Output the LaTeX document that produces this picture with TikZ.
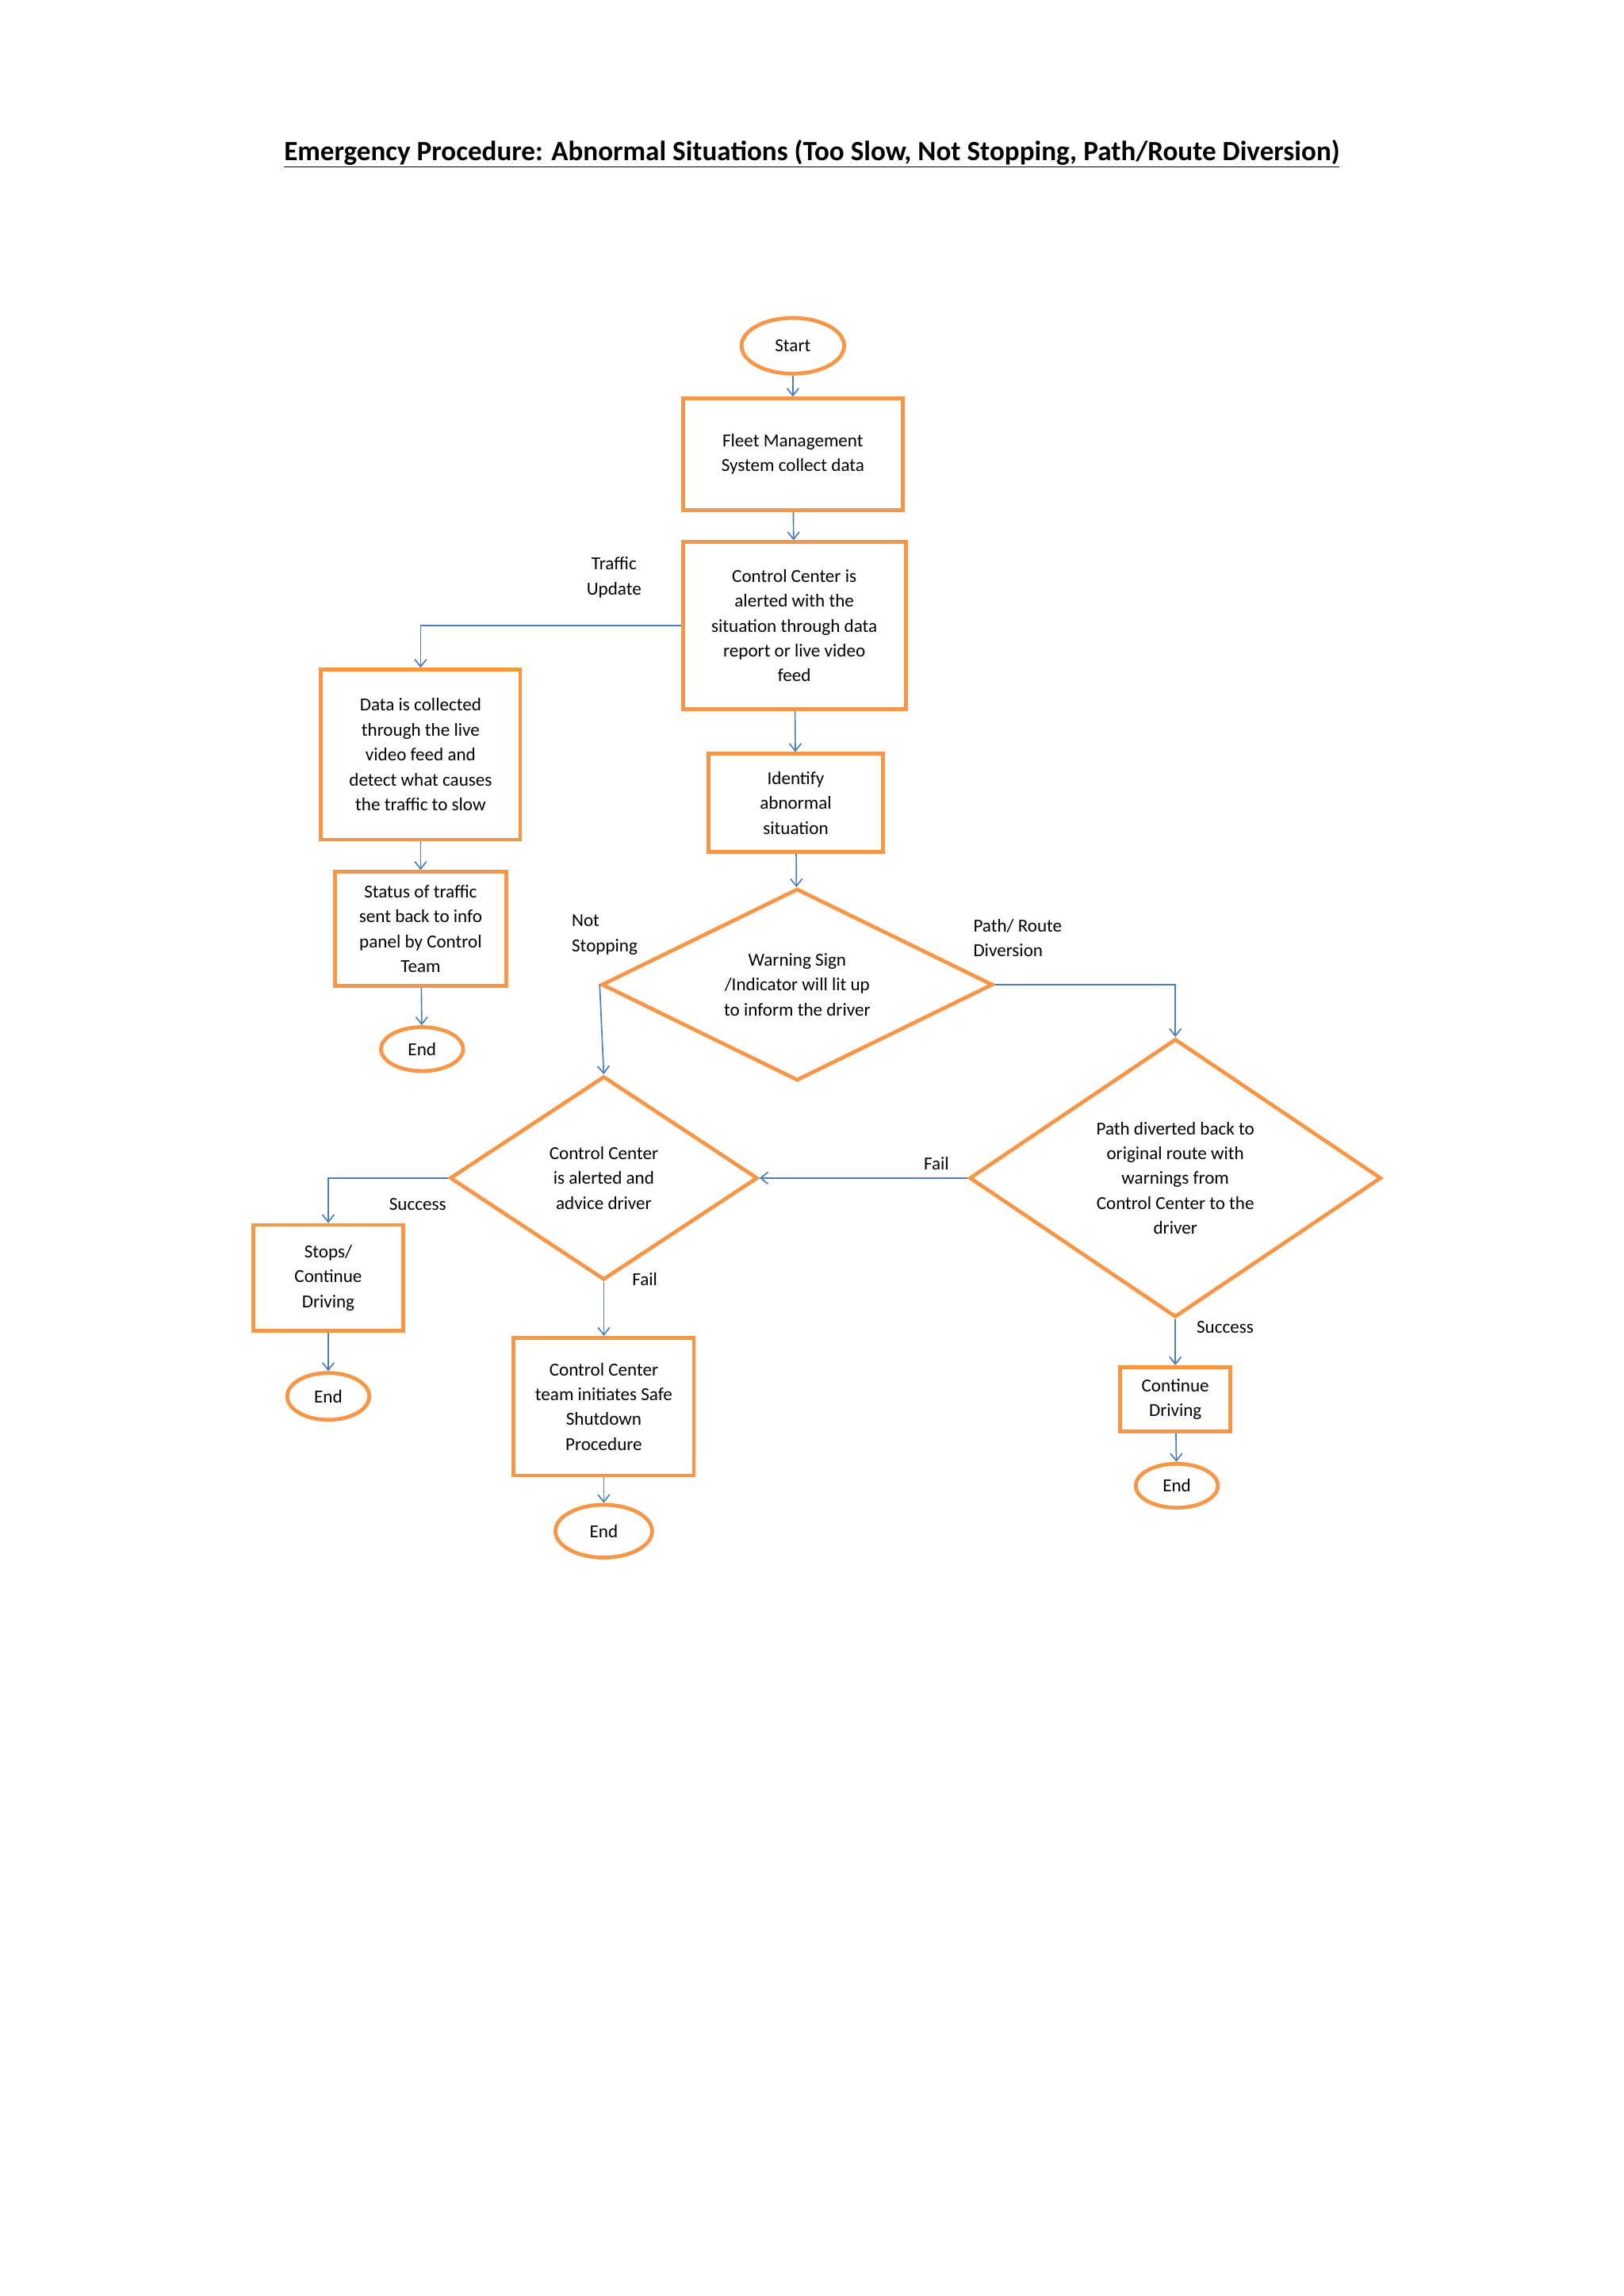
\documentclass[tikz,border=0pt]{standalone}
\usepackage{fontspec}
\setmainfont{Carlito}
\usetikzlibrary{shapes.geometric,arrows.meta}
\definecolor{org}{HTML}{F79646}
\definecolor{blu}{HTML}{4A7EBB}
\begin{document}
\begin{tikzpicture}[x=1pt,y=-1pt,
 box/.style={draw=org,line width=2.6pt,rectangle,inner sep=0pt,align=center,font=\fontsize{12.5}{17}\selectfont},
 ell/.style={draw=org,line width=2.6pt,ellipse,inner sep=0pt,align=center,font=\fontsize{12.5}{17}\selectfont},
 dia/.style={draw=org,line width=2.6pt,diamond,inner sep=0pt,align=center,font=\fontsize{12.5}{17}\selectfont},
 lab/.style={align=left,font=\fontsize{12.5}{17}\selectfont,inner sep=0pt},
 con/.style={draw=blu,line width=0.9pt,-{Straight Barb[length=5pt,width=8pt]}}]
\useasboundingbox[fill=white] (0,0) rectangle (1108,1567);
\node[font=\fontsize{19}{22}\selectfont\bfseries] (title) at (554,105) {\underline{Emergency Procedure: Abnormal Situations (Too Slow, Not Stopping, Path/Route Diversion)}};
\node[ell,minimum width=70,minimum height=38] (start) at (541,236) {Start};
\node[box,minimum width=150,minimum height=76] (fleet) at (541,310) {Fleet Management\\System collect data};
\node[box,minimum width=152,minimum height=114] (cc) at (542,427) {Control Center is\\alerted with the\\situation through data\\report or live video\\feed};
\node[box,minimum width=119,minimum height=67] (id) at (543,548) {Identify\\abnormal\\situation};
\node[dia,minimum width=267,minimum height=131,aspect=2.04] (warn) at (544,672) {Warning Sign\\/Indicator will lit up\\to inform the driver};
\node[box,minimum width=136,minimum height=116] (data) at (287,515) {Data is collected\\through the live\\video feed and\\detect what causes\\the traffic to slow};
\node[box,minimum width=117,minimum height=78] (status) at (287,634) {Status of traffic\\sent back to info\\panel by Control\\Team};
\node[ell,minimum width=56,minimum height=30] (end1) at (288,716) {End};
\node[dia,minimum width=210,minimum height=139,aspect=1.51] (ccd) at (412,804) {Control Center\\is alerted and\\advice driver};
\node[dia,minimum width=281,minimum height=190,aspect=1.48] (pd) at (802,804) {Path diverted back to\\original route with\\warnings from\\Control Center to the\\driver};
\node[box,minimum width=102,minimum height=72] (stops) at (224,872) {Stops/\\Continue\\Driving};
\node[ell,minimum width=56,minimum height=32] (end2) at (224,953) {End};
\node[box,minimum width=123,minimum height=94] (safe) at (412,960) {Control Center\\team initiates Safe\\Shutdown\\Procedure};
\node[ell,minimum width=66,minimum height=36] (end3) at (412,1045) {End};
\node[box,minimum width=75,minimum height=44] (cont) at (802,955) {Continue\\Driving};
\node[ell,minimum width=56,minimum height=30] (end4) at (803,1014) {End};
\draw[con] (start) -- (fleet);
\draw[con] (fleet) -- (cc);
\draw[con] (cc) -- (id);
\draw[con] (id) -- (warn);
\draw[con] (cc.west) -| (data.north);
\draw[con] (data) -- (status);
\draw[con] (status) -- (end1);
\draw[con] (warn.west) -- (ccd.north);
\draw[con] (warn.east) -| (pd.north);
\draw[con] (pd.west) -- (ccd.east);
\draw[con] (ccd.west) -| (stops.north);
\draw[con] (stops) -- (end2);
\draw[con] (ccd.south) -- (safe);
\draw[con] (safe) -- (end3);
\draw[con] (pd.south) -- (cont);
\draw[con] (cont) -- (end4);
\node[lab,align=center] (l1) at (419,394) {Traffic\\Update};
\node[lab,anchor=west] (l2) at (390,638) {Not\\Stopping};
\node[lab,anchor=west] (l3) at (664,640) {Path/ Route\\Diversion};
\node[lab] (l4) at (639,794) {Fail};
\node[lab] (l5) at (285,822) {Success};
\node[lab] (l6) at (440,873) {Fail};
\node[lab] (l7) at (836,906) {Success};
\end{tikzpicture}
\end{document}
